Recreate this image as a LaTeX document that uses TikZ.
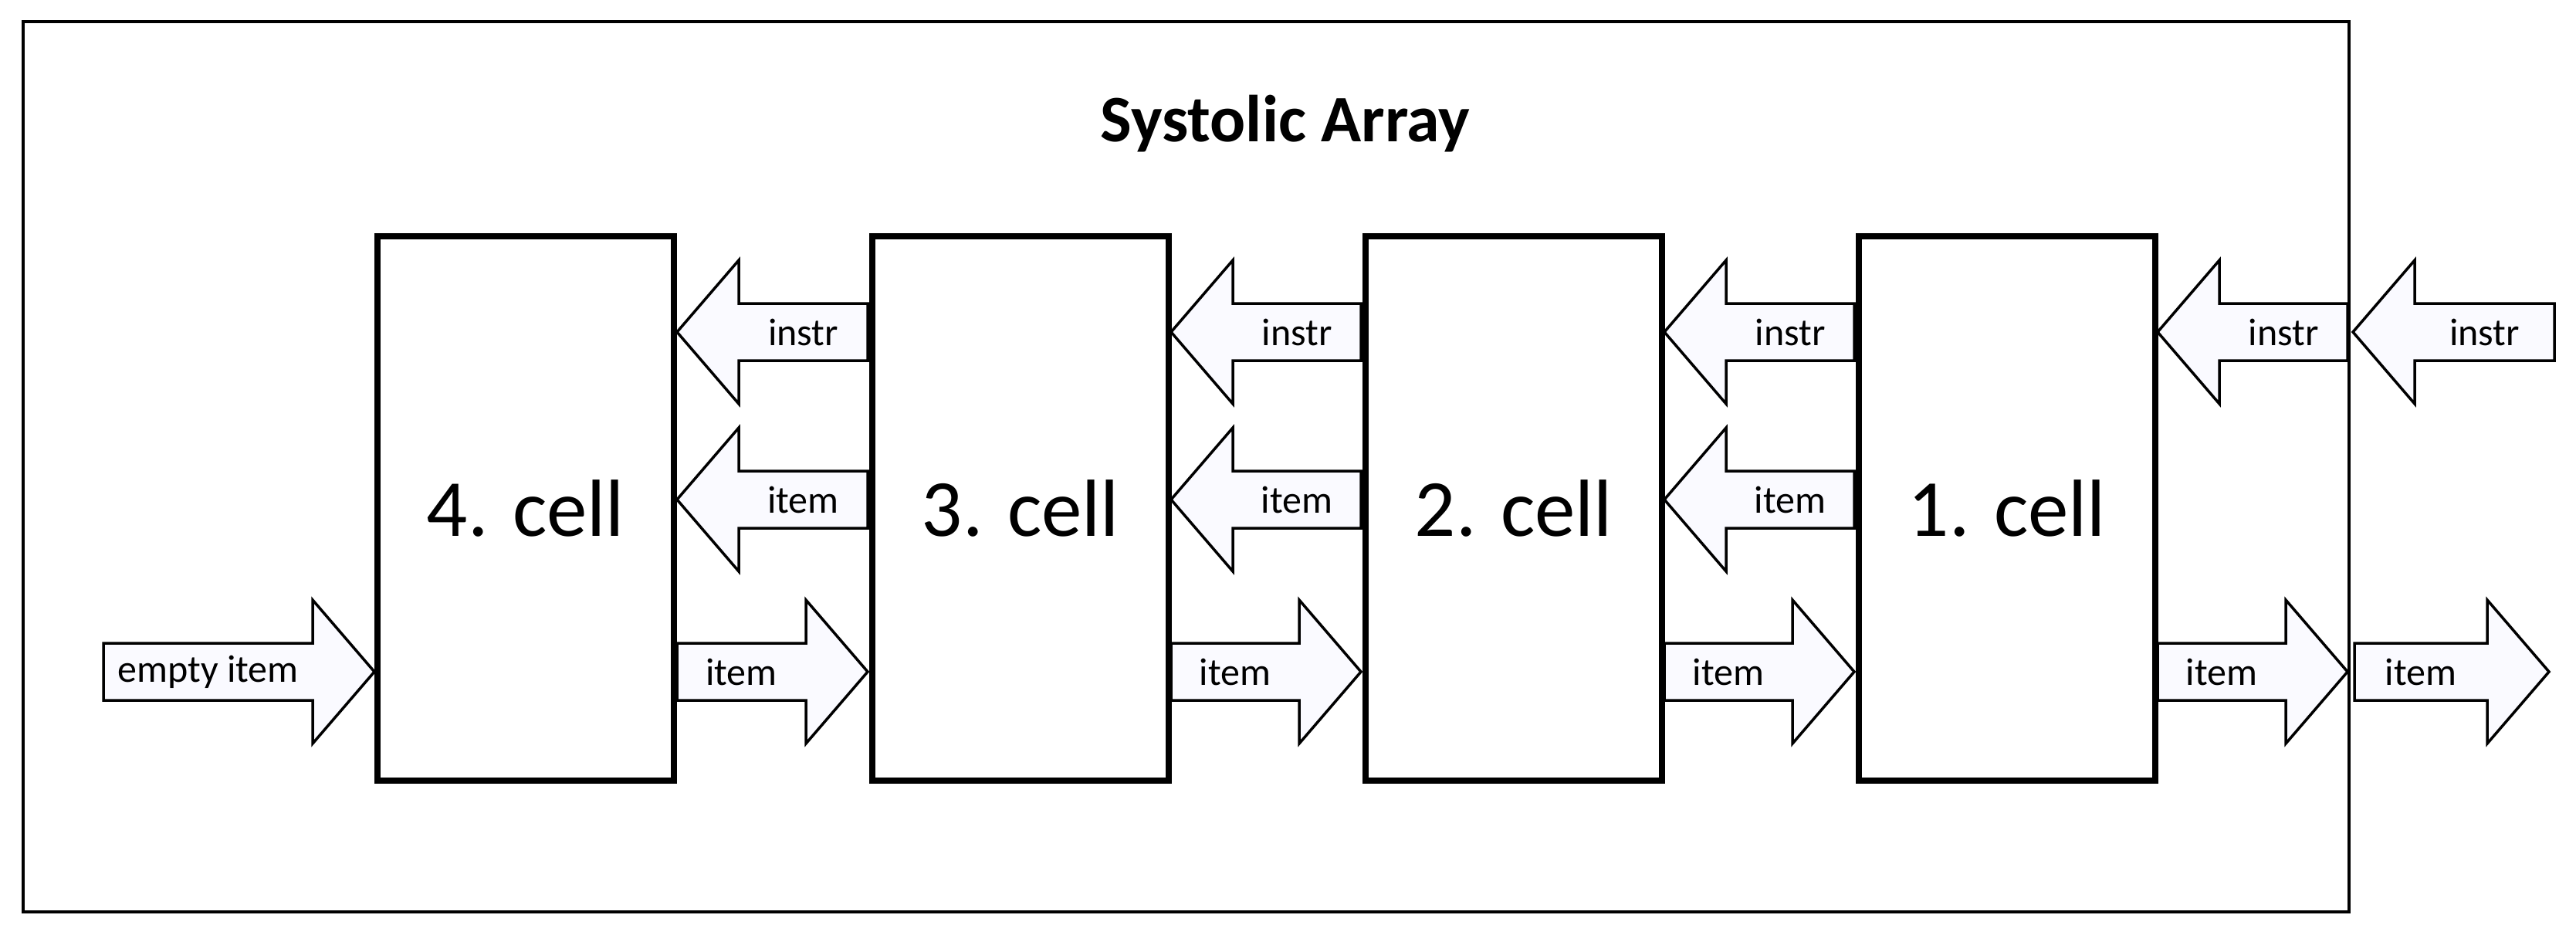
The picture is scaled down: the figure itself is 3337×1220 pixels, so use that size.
\documentclass[tikz,border=0pt]{standalone}
\usepackage{fontspec}
\setmainfont{Carlito}
\begin{document}
\begin{tikzpicture}[x=1pt,y=-1pt,
  cell/.style={draw,line width=8pt,fill=white,minimum width=384pt,minimum height=705pt,inner sep=0pt,font=\fontsize{105}{110}\selectfont},
  arr/.style={draw,line width=3.5pt,fill=blue!2,line join=miter},
  lbl/.style={font=\fontsize{50}{55}\selectfont,inner sep=0pt}]
\useasboundingbox (0,0) rectangle (3337,1220);
\draw[line width=3.5pt] (30,28) rectangle (3043,1181);
\node[font=\fontsize{86}{90}\selectfont\bfseries] (title) at (1665,160) {Systolic Array};
\foreach \n/\x in {4/681,3/1322,2/1961,1/2600}{
  \node[cell] (c\n) at (\x,658) {\n. cell};
}
% arrow: #1 tail x, #2 tip x, #3 y, #4 label, #5 name
\newcommand\barrow[5]{%
  \pgfmathsetmacro\hd{#2>#1 ? -80 : 80}%
  \draw[arr] (#1,#3-37) -- (#2+\hd,#3-37) -- (#2+\hd,#3-93) -- (#2,#3) -- (#2+\hd,#3+93) -- (#2+\hd,#3+37) -- (#1,#3+37) -- cycle;
  \node[lbl] (#5) at ({(#1+#2+\hd)/2},#3) {#4};}
% left-going instr and item
\barrow{1124}{877}{430}{instr}{i43}
\barrow{1124}{877}{647}{item}{m43}
\barrow{1763}{1517}{430}{instr}{i32}
\barrow{1763}{1517}{647}{item}{m32}
\barrow{2402}{2156}{430}{instr}{i21}
\barrow{2402}{2156}{647}{item}{m21}
\barrow{3041}{2795}{430}{instr}{i1}
\barrow{3309}{3048}{430}{instr}{iin}
% right-going items
\barrow{134}{485}{870}{empty item}{ein}
\barrow{877}{1124}{870}{item}{o43}
\barrow{1517}{1763}{870}{item}{o32}
\barrow{2156}{2402}{870}{item}{o21}
\barrow{2795}{3041}{870}{item}{o1}
\barrow{3050}{3302}{870}{item}{oout}
\end{tikzpicture}
\end{document}
